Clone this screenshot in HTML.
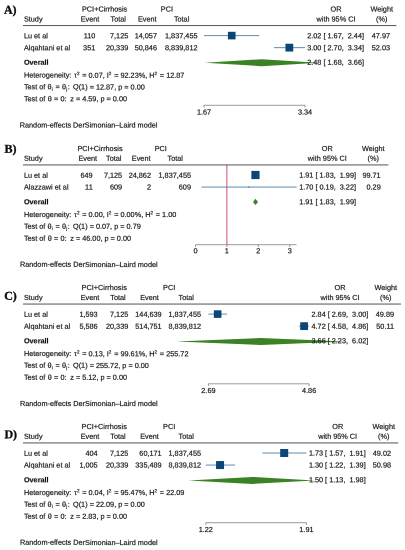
<!DOCTYPE html>
<html><head><meta charset="utf-8"><title>Forest plots</title>
<style>
html,body{margin:0;padding:0;background:#fff}
svg{display:block}
.t{font-family:"Liberation Sans",Arial,Helvetica,sans-serif;font-size:7.3px;fill:#111;stroke:rgba(10,10,10,0.4);stroke-width:0.4px;paint-order:stroke;white-space:pre}
.b{font-weight:bold}
.sup{font-size:4.6px}
.sub{font-size:4.4px}
.lab{font-family:"Liberation Serif","Times New Roman",serif;font-weight:bold;font-size:12px;fill:#0a0a0a;stroke:#0a0a0a;stroke-width:0.3px}
</style></head><body>
<svg width="405" height="550" viewBox="0 0 405 550">
<rect width="405" height="550" fill="#fff"/>
<g>
<path d="M204.00 105.30H305.00" fill="none" stroke="#666" stroke-width="0.65"/>
<line x1="204.00" y1="105.30" x2="204.00" y2="107.60" stroke="#666" stroke-width="0.65"/>
<text x="204.00" y="114.50" transform="rotate(0.03 204.00 114.50)" text-anchor="middle" class="t">1.67</text>
<line x1="305.00" y1="105.30" x2="305.00" y2="107.60" stroke="#666" stroke-width="0.65"/>
<text x="305.00" y="114.50" transform="rotate(0.03 305.00 114.50)" text-anchor="middle" class="t">3.34</text>
<polygon points="204.87,62.70 261.62,59.20 318.33,62.70 261.62,66.20" fill="#3a8224"/>
<line x1="204.00" y1="35.60" x2="259.25" y2="35.60" stroke="#4b80a8" stroke-width="0.9"/>
<rect x="227.93" y="31.80" width="7.6" height="7.6" fill="#0d4577"/>
<line x1="274.00" y1="47.65" x2="305.00" y2="47.65" stroke="#4b80a8" stroke-width="0.9"/>
<rect x="285.46" y="43.75" width="7.8" height="7.8" fill="#0d4577"/>
<text x="3.90" y="13.80" transform="rotate(0.03 3.90 13.80)" text-anchor="start" class="lab">A)</text>
<text x="104.60" y="11.60" transform="rotate(0.03 104.60 11.60)" text-anchor="middle" class="t">PCI+Cirrhosis</text>
<text x="166.90" y="11.60" transform="rotate(0.03 166.90 11.60)" text-anchor="middle" class="t">PCI</text>
<text x="336.00" y="11.60" transform="rotate(0.03 336.00 11.60)" text-anchor="middle" class="t">OR</text>
<text x="381.70" y="11.60" transform="rotate(0.03 381.70 11.60)" text-anchor="middle" class="t">Weight</text>
<text x="23.90" y="21.40" transform="rotate(0.03 23.90 21.40)" text-anchor="start" class="t">Study</text>
<text x="90.00" y="21.40" transform="rotate(0.03 90.00 21.40)" text-anchor="middle" class="t">Event</text>
<text x="118.30" y="21.40" transform="rotate(0.03 118.30 21.40)" text-anchor="middle" class="t">Total</text>
<text x="147.30" y="21.40" transform="rotate(0.03 147.30 21.40)" text-anchor="middle" class="t">Event</text>
<text x="181.60" y="21.40" transform="rotate(0.03 181.60 21.40)" text-anchor="middle" class="t">Total</text>
<text x="336.00" y="21.40" transform="rotate(0.03 336.00 21.40)" text-anchor="middle" class="t">with 95% CI</text>
<text x="381.70" y="21.40" transform="rotate(0.03 381.70 21.40)" text-anchor="middle" class="t">(%)</text>
<line x1="23.00" y1="25.55" x2="396.40" y2="25.55" stroke="#4a4a4a" stroke-width="0.95"/>
<text x="23.90" y="38.25" transform="rotate(0.03 23.90 38.25)" text-anchor="start" class="t">Lu et al</text>
<text x="95.30" y="38.25" transform="rotate(0.03 95.30 38.25)" text-anchor="end" class="t">110</text>
<text x="128.30" y="38.25" transform="rotate(0.03 128.30 38.25)" text-anchor="end" class="t">7,125</text>
<text x="157.00" y="38.25" transform="rotate(0.03 157.00 38.25)" text-anchor="end" class="t">14,057</text>
<text x="197.50" y="38.25" transform="rotate(0.03 197.50 38.25)" text-anchor="end" class="t">1,837,455</text>
<text x="364.00" y="38.25" transform="rotate(0.03 364.00 38.25)" text-anchor="end" class="t">2.02 [ 1.67,  2.44]</text>
<text x="390.00" y="38.25" transform="rotate(0.03 390.00 38.25)" text-anchor="end" class="t">47.97</text>
<text x="23.90" y="50.20" transform="rotate(0.03 23.90 50.20)" text-anchor="start" class="t">Alqahtani et al</text>
<text x="95.30" y="50.20" transform="rotate(0.03 95.30 50.20)" text-anchor="end" class="t">351</text>
<text x="128.30" y="50.20" transform="rotate(0.03 128.30 50.20)" text-anchor="end" class="t">20,339</text>
<text x="157.00" y="50.20" transform="rotate(0.03 157.00 50.20)" text-anchor="end" class="t">50,846</text>
<text x="197.50" y="50.20" transform="rotate(0.03 197.50 50.20)" text-anchor="end" class="t">8,839,812</text>
<text x="364.00" y="50.20" transform="rotate(0.03 364.00 50.20)" text-anchor="end" class="t">3.00 [ 2.70,  3.34]</text>
<text x="390.00" y="50.20" transform="rotate(0.03 390.00 50.20)" text-anchor="end" class="t">52.03</text>
<text x="23.90" y="64.80" transform="rotate(0.03 23.90 64.80)" text-anchor="start" class="t b">Overall</text>
<text x="364.00" y="64.80" transform="rotate(0.03 364.00 64.80)" text-anchor="end" class="t">2.48 [ 1.68,  3.66]</text>
<text x="23.90" y="77.60" transform="rotate(0.03 23.90 77.60)" text-anchor="start" class="t">Heterogeneity: <tspan dx="0.60">τ</tspan><tspan class="sup" dy="-2.70">2</tspan><tspan dy="2.70" dx="0.75"> = 0.07, I</tspan><tspan class="sup" dy="-2.70">2</tspan><tspan dy="2.70" dx="0.75"> = 92.23%, H</tspan><tspan class="sup" dy="-2.70">2</tspan><tspan dy="2.70" dx="0.75"> = 12.87</tspan></text>
<text x="23.90" y="89.35" transform="rotate(0.03 23.90 89.35)" text-anchor="start" class="t">Test of θ<tspan class="sub" dy="1.30" dx="0.30">i</tspan><tspan dy="-1.30" dx="0.70"> = </tspan><tspan dx="0.30">θ</tspan><tspan class="sub" dy="1.30" dx="0.20">j</tspan><tspan dy="-1.30" dx="0.40">:</tspan><tspan dx="1.20"> Q(1) = 12.87, p = 0.00</tspan></text>
<text x="23.90" y="101.30" transform="rotate(0.03 23.90 101.30)" text-anchor="start" class="t">Test of <tspan dx="0.20">θ</tspan><tspan dx="0.40"> = 0:</tspan><tspan dx="1.70"> z = 4.59, p = 0.00</tspan></text>
<text x="19.70" y="127.45" transform="rotate(0.03 19.70 127.45)" text-anchor="start" class="t">Random-effects DerSimonian–Laird model</text>
<path d="M195.50 244.70H296.61" fill="none" stroke="#666" stroke-width="0.65"/>
<line x1="195.50" y1="244.70" x2="195.50" y2="247.00" stroke="#666" stroke-width="0.65"/>
<text x="195.50" y="253.30" transform="rotate(0.03 195.50 253.30)" text-anchor="middle" class="t">0</text>
<line x1="226.90" y1="244.70" x2="226.90" y2="247.00" stroke="#666" stroke-width="0.65"/>
<text x="226.90" y="253.30" transform="rotate(0.03 226.90 253.30)" text-anchor="middle" class="t">1</text>
<line x1="258.30" y1="244.70" x2="258.30" y2="247.00" stroke="#666" stroke-width="0.65"/>
<text x="258.30" y="253.30" transform="rotate(0.03 258.30 253.30)" text-anchor="middle" class="t">2</text>
<line x1="289.70" y1="244.70" x2="289.70" y2="247.00" stroke="#666" stroke-width="0.65"/>
<text x="289.70" y="253.30" transform="rotate(0.03 289.70 253.30)" text-anchor="middle" class="t">3</text>
<line x1="226.90" y1="164.95" x2="226.90" y2="244.70" stroke="#cc3a5e" stroke-width="0.9"/>
<polygon points="252.96,201.90 255.47,198.70 257.99,201.90 255.47,205.10" fill="#3a8224"/>
<line x1="252.96" y1="175.00" x2="257.99" y2="175.00" stroke="#4b80a8" stroke-width="0.9"/>
<rect x="251.37" y="170.90" width="8.2" height="8.2" fill="#0d4577"/>
<line x1="201.47" y1="187.05" x2="296.61" y2="187.05" stroke="#4b80a8" stroke-width="0.9"/>
<rect x="248.38" y="186.55" width="1.0" height="1.0" fill="#0d4577"/>
<text x="4.40" y="152.70" transform="rotate(0.03 4.40 152.70)" text-anchor="start" class="lab">B)</text>
<text x="100.00" y="151.00" transform="rotate(0.03 100.00 151.00)" text-anchor="middle" class="t">PCI+Cirrhosis</text>
<text x="160.80" y="151.00" transform="rotate(0.03 160.80 151.00)" text-anchor="middle" class="t">PCI</text>
<text x="327.30" y="151.00" transform="rotate(0.03 327.30 151.00)" text-anchor="middle" class="t">OR</text>
<text x="373.30" y="151.00" transform="rotate(0.03 373.30 151.00)" text-anchor="middle" class="t">Weight</text>
<text x="23.90" y="160.80" transform="rotate(0.03 23.90 160.80)" text-anchor="start" class="t">Study</text>
<text x="87.80" y="160.80" transform="rotate(0.03 87.80 160.80)" text-anchor="middle" class="t">Event</text>
<text x="113.80" y="160.80" transform="rotate(0.03 113.80 160.80)" text-anchor="middle" class="t">Total</text>
<text x="141.20" y="160.80" transform="rotate(0.03 141.20 160.80)" text-anchor="middle" class="t">Event</text>
<text x="175.30" y="160.80" transform="rotate(0.03 175.30 160.80)" text-anchor="middle" class="t">Total</text>
<text x="327.30" y="160.80" transform="rotate(0.03 327.30 160.80)" text-anchor="middle" class="t">with 95% CI</text>
<text x="373.30" y="160.80" transform="rotate(0.03 373.30 160.80)" text-anchor="middle" class="t">(%)</text>
<line x1="23.00" y1="164.95" x2="388.30" y2="164.95" stroke="#4a4a4a" stroke-width="0.95"/>
<text x="23.90" y="177.65" transform="rotate(0.03 23.90 177.65)" text-anchor="start" class="t">Lu et al</text>
<text x="92.70" y="177.65" transform="rotate(0.03 92.70 177.65)" text-anchor="end" class="t">649</text>
<text x="122.20" y="177.65" transform="rotate(0.03 122.20 177.65)" text-anchor="end" class="t">7,125</text>
<text x="151.00" y="177.65" transform="rotate(0.03 151.00 177.65)" text-anchor="end" class="t">24,862</text>
<text x="191.00" y="177.65" transform="rotate(0.03 191.00 177.65)" text-anchor="end" class="t">1,837,455</text>
<text x="356.00" y="177.65" transform="rotate(0.03 356.00 177.65)" text-anchor="end" class="t">1.91 [ 1.83,  1.99]</text>
<text x="380.70" y="177.65" transform="rotate(0.03 380.70 177.65)" text-anchor="end" class="t">99.71</text>
<text x="23.90" y="189.60" transform="rotate(0.03 23.90 189.60)" text-anchor="start" class="t">Alazzawi et al</text>
<text x="92.70" y="189.60" transform="rotate(0.03 92.70 189.60)" text-anchor="end" class="t">11</text>
<text x="122.20" y="189.60" transform="rotate(0.03 122.20 189.60)" text-anchor="end" class="t">609</text>
<text x="151.00" y="189.60" transform="rotate(0.03 151.00 189.60)" text-anchor="end" class="t">2</text>
<text x="191.00" y="189.60" transform="rotate(0.03 191.00 189.60)" text-anchor="end" class="t">609</text>
<text x="356.00" y="189.60" transform="rotate(0.03 356.00 189.60)" text-anchor="end" class="t">1.70 [ 0.19,  3.22]</text>
<text x="380.70" y="189.60" transform="rotate(0.03 380.70 189.60)" text-anchor="end" class="t">0.29</text>
<text x="23.90" y="204.20" transform="rotate(0.03 23.90 204.20)" text-anchor="start" class="t b">Overall</text>
<text x="356.00" y="204.20" transform="rotate(0.03 356.00 204.20)" text-anchor="end" class="t">1.91 [ 1.83,  1.99]</text>
<text x="23.90" y="217.00" transform="rotate(0.03 23.90 217.00)" text-anchor="start" class="t">Heterogeneity: <tspan dx="0.60">τ</tspan><tspan class="sup" dy="-2.70">2</tspan><tspan dy="2.70" dx="0.75"> = 0.00, I</tspan><tspan class="sup" dy="-2.70">2</tspan><tspan dy="2.70" dx="0.75"> = 0.00%, H</tspan><tspan class="sup" dy="-2.70">2</tspan><tspan dy="2.70" dx="0.75"> = 1.00</tspan></text>
<text x="23.90" y="228.75" transform="rotate(0.03 23.90 228.75)" text-anchor="start" class="t">Test of θ<tspan class="sub" dy="1.30" dx="0.30">i</tspan><tspan dy="-1.30" dx="0.70"> = </tspan><tspan dx="0.30">θ</tspan><tspan class="sub" dy="1.30" dx="0.20">j</tspan><tspan dy="-1.30" dx="0.40">:</tspan><tspan dx="1.20"> Q(1) = 0.07, p = 0.79</tspan></text>
<text x="23.90" y="240.70" transform="rotate(0.03 23.90 240.70)" text-anchor="start" class="t">Test of <tspan dx="0.20">θ</tspan><tspan dx="0.40"> = 0:</tspan><tspan dx="1.70"> z = 46.00, p = 0.00</tspan></text>
<text x="19.90" y="266.85" transform="rotate(0.03 19.90 266.85)" text-anchor="start" class="t">Random-effects DerSimonian–Laird model</text>
<path d="M208.40 383.80H309.10" fill="none" stroke="#666" stroke-width="0.65"/>
<line x1="208.40" y1="383.80" x2="208.40" y2="386.10" stroke="#666" stroke-width="0.65"/>
<text x="208.40" y="393.00" transform="rotate(0.03 208.40 393.00)" text-anchor="middle" class="t">2.69</text>
<line x1="309.10" y1="383.80" x2="309.10" y2="386.10" stroke="#666" stroke-width="0.65"/>
<text x="309.10" y="393.00" transform="rotate(0.03 309.10 393.00)" text-anchor="middle" class="t">4.86</text>
<polygon points="176.47,341.50 260.82,338.00 345.54,341.50 260.82,345.00" fill="#3a8224"/>
<line x1="208.40" y1="314.10" x2="226.97" y2="314.10" stroke="#4b80a8" stroke-width="0.9"/>
<rect x="213.84" y="310.30" width="7.6" height="7.6" fill="#0d4577"/>
<line x1="299.00" y1="326.15" x2="309.10" y2="326.15" stroke="#4b80a8" stroke-width="0.9"/>
<rect x="300.22" y="322.25" width="7.8" height="7.8" fill="#0d4577"/>
<text x="4.20" y="299.80" transform="rotate(0.03 4.20 299.80)" text-anchor="start" class="lab">C)</text>
<text x="104.20" y="290.10" transform="rotate(0.03 104.20 290.10)" text-anchor="middle" class="t">PCI+Cirrhosis</text>
<text x="169.20" y="290.10" transform="rotate(0.03 169.20 290.10)" text-anchor="middle" class="t">PCI</text>
<text x="340.00" y="290.10" transform="rotate(0.03 340.00 290.10)" text-anchor="middle" class="t">OR</text>
<text x="385.80" y="290.10" transform="rotate(0.03 385.80 290.10)" text-anchor="middle" class="t">Weight</text>
<text x="23.90" y="299.90" transform="rotate(0.03 23.90 299.90)" text-anchor="start" class="t">Study</text>
<text x="90.00" y="299.90" transform="rotate(0.03 90.00 299.90)" text-anchor="middle" class="t">Event</text>
<text x="118.00" y="299.90" transform="rotate(0.03 118.00 299.90)" text-anchor="middle" class="t">Total</text>
<text x="149.50" y="299.90" transform="rotate(0.03 149.50 299.90)" text-anchor="middle" class="t">Event</text>
<text x="186.20" y="299.90" transform="rotate(0.03 186.20 299.90)" text-anchor="middle" class="t">Total</text>
<text x="340.00" y="299.90" transform="rotate(0.03 340.00 299.90)" text-anchor="middle" class="t">with 95% CI</text>
<text x="385.80" y="299.90" transform="rotate(0.03 385.80 299.90)" text-anchor="middle" class="t">(%)</text>
<line x1="23.00" y1="304.05" x2="401.00" y2="304.05" stroke="#4a4a4a" stroke-width="0.95"/>
<text x="23.90" y="316.75" transform="rotate(0.03 23.90 316.75)" text-anchor="start" class="t">Lu et al</text>
<text x="97.70" y="316.75" transform="rotate(0.03 97.70 316.75)" text-anchor="end" class="t">1,593</text>
<text x="128.30" y="316.75" transform="rotate(0.03 128.30 316.75)" text-anchor="end" class="t">7,125</text>
<text x="161.70" y="316.75" transform="rotate(0.03 161.70 316.75)" text-anchor="end" class="t">144,639</text>
<text x="201.00" y="316.75" transform="rotate(0.03 201.00 316.75)" text-anchor="end" class="t">1,837,455</text>
<text x="368.30" y="316.75" transform="rotate(0.03 368.30 316.75)" text-anchor="end" class="t">2.84 [ 2.69,  3.00]</text>
<text x="394.00" y="316.75" transform="rotate(0.03 394.00 316.75)" text-anchor="end" class="t">49.89</text>
<text x="23.90" y="328.70" transform="rotate(0.03 23.90 328.70)" text-anchor="start" class="t">Alqahtani et al</text>
<text x="97.70" y="328.70" transform="rotate(0.03 97.70 328.70)" text-anchor="end" class="t">5,586</text>
<text x="128.30" y="328.70" transform="rotate(0.03 128.30 328.70)" text-anchor="end" class="t">20,339</text>
<text x="161.70" y="328.70" transform="rotate(0.03 161.70 328.70)" text-anchor="end" class="t">514,751</text>
<text x="201.00" y="328.70" transform="rotate(0.03 201.00 328.70)" text-anchor="end" class="t">8,839,812</text>
<text x="368.30" y="328.70" transform="rotate(0.03 368.30 328.70)" text-anchor="end" class="t">4.72 [ 4.58,  4.86]</text>
<text x="394.00" y="328.70" transform="rotate(0.03 394.00 328.70)" text-anchor="end" class="t">50.11</text>
<text x="23.90" y="343.30" transform="rotate(0.03 23.90 343.30)" text-anchor="start" class="t b">Overall</text>
<text x="368.30" y="343.30" transform="rotate(0.03 368.30 343.30)" text-anchor="end" class="t">3.66 [ 2.23,  6.02]</text>
<text x="23.90" y="356.10" transform="rotate(0.03 23.90 356.10)" text-anchor="start" class="t">Heterogeneity: <tspan dx="0.60">τ</tspan><tspan class="sup" dy="-2.70">2</tspan><tspan dy="2.70" dx="0.75"> = 0.13, I</tspan><tspan class="sup" dy="-2.70">2</tspan><tspan dy="2.70" dx="0.75"> = 99.61%, H</tspan><tspan class="sup" dy="-2.70">2</tspan><tspan dy="2.70" dx="0.75"> = 255.72</tspan></text>
<text x="23.90" y="367.85" transform="rotate(0.03 23.90 367.85)" text-anchor="start" class="t">Test of θ<tspan class="sub" dy="1.30" dx="0.30">i</tspan><tspan dy="-1.30" dx="0.70"> = </tspan><tspan dx="0.30">θ</tspan><tspan class="sub" dy="1.30" dx="0.20">j</tspan><tspan dy="-1.30" dx="0.40">:</tspan><tspan dx="1.20"> Q(1) = 255.72, p = 0.00</tspan></text>
<text x="23.90" y="379.80" transform="rotate(0.03 23.90 379.80)" text-anchor="start" class="t">Test of <tspan dx="0.20">θ</tspan><tspan dx="0.40"> = 0:</tspan><tspan dx="1.70"> z = 5.12, p = 0.00</tspan></text>
<text x="19.90" y="405.95" transform="rotate(0.03 19.90 405.95)" text-anchor="start" class="t">Random-effects DerSimonian–Laird model</text>
<path d="M205.80 522.70H306.40" fill="none" stroke="#666" stroke-width="0.65"/>
<line x1="205.80" y1="522.70" x2="205.80" y2="525.00" stroke="#666" stroke-width="0.65"/>
<text x="205.80" y="531.90" transform="rotate(0.03 205.80 531.90)" text-anchor="middle" class="t">1.22</text>
<line x1="306.40" y1="522.70" x2="306.40" y2="525.00" stroke="#666" stroke-width="0.65"/>
<text x="306.40" y="531.90" transform="rotate(0.03 306.40 531.90)" text-anchor="middle" class="t">1.91</text>
<polygon points="188.60,480.40 252.17,476.90 314.48,480.40 252.17,483.90" fill="#3a8224"/>
<line x1="262.41" y1="453.00" x2="306.40" y2="453.00" stroke="#4b80a8" stroke-width="0.9"/>
<rect x="280.19" y="449.00" width="8.0" height="8.0" fill="#0d4577"/>
<line x1="205.80" y1="465.05" x2="235.08" y2="465.05" stroke="#4b80a8" stroke-width="0.9"/>
<rect x="216.05" y="461.05" width="8.0" height="8.0" fill="#0d4577"/>
<text x="4.40" y="438.20" transform="rotate(0.03 4.40 438.20)" text-anchor="start" class="lab">D)</text>
<text x="104.20" y="429.00" transform="rotate(0.03 104.20 429.00)" text-anchor="middle" class="t">PCI+Cirrhosis</text>
<text x="169.20" y="429.00" transform="rotate(0.03 169.20 429.00)" text-anchor="middle" class="t">PCI</text>
<text x="337.70" y="429.00" transform="rotate(0.03 337.70 429.00)" text-anchor="middle" class="t">OR</text>
<text x="383.70" y="429.00" transform="rotate(0.03 383.70 429.00)" text-anchor="middle" class="t">Weight</text>
<text x="23.90" y="438.80" transform="rotate(0.03 23.90 438.80)" text-anchor="start" class="t">Study</text>
<text x="90.00" y="438.80" transform="rotate(0.03 90.00 438.80)" text-anchor="middle" class="t">Event</text>
<text x="118.00" y="438.80" transform="rotate(0.03 118.00 438.80)" text-anchor="middle" class="t">Total</text>
<text x="149.50" y="438.80" transform="rotate(0.03 149.50 438.80)" text-anchor="middle" class="t">Event</text>
<text x="186.20" y="438.80" transform="rotate(0.03 186.20 438.80)" text-anchor="middle" class="t">Total</text>
<text x="337.70" y="438.80" transform="rotate(0.03 337.70 438.80)" text-anchor="middle" class="t">with 95% CI</text>
<text x="383.70" y="438.80" transform="rotate(0.03 383.70 438.80)" text-anchor="middle" class="t">(%)</text>
<line x1="23.00" y1="442.95" x2="398.30" y2="442.95" stroke="#4a4a4a" stroke-width="0.95"/>
<text x="23.90" y="455.65" transform="rotate(0.03 23.90 455.65)" text-anchor="start" class="t">Lu et al</text>
<text x="97.70" y="455.65" transform="rotate(0.03 97.70 455.65)" text-anchor="end" class="t">404</text>
<text x="128.30" y="455.65" transform="rotate(0.03 128.30 455.65)" text-anchor="end" class="t">7,125</text>
<text x="161.70" y="455.65" transform="rotate(0.03 161.70 455.65)" text-anchor="end" class="t">60,171</text>
<text x="201.00" y="455.65" transform="rotate(0.03 201.00 455.65)" text-anchor="end" class="t">1,837,455</text>
<text x="365.70" y="455.65" transform="rotate(0.03 365.70 455.65)" text-anchor="end" class="t">1.73 [ 1.57,  1.91]</text>
<text x="391.00" y="455.65" transform="rotate(0.03 391.00 455.65)" text-anchor="end" class="t">49.02</text>
<text x="23.90" y="467.60" transform="rotate(0.03 23.90 467.60)" text-anchor="start" class="t">Alqahtani et al</text>
<text x="97.70" y="467.60" transform="rotate(0.03 97.70 467.60)" text-anchor="end" class="t">1,005</text>
<text x="128.30" y="467.60" transform="rotate(0.03 128.30 467.60)" text-anchor="end" class="t">20,339</text>
<text x="161.70" y="467.60" transform="rotate(0.03 161.70 467.60)" text-anchor="end" class="t">335,489</text>
<text x="201.00" y="467.60" transform="rotate(0.03 201.00 467.60)" text-anchor="end" class="t">8,839,812</text>
<text x="365.70" y="467.60" transform="rotate(0.03 365.70 467.60)" text-anchor="end" class="t">1.30 [ 1.22,  1.39]</text>
<text x="391.00" y="467.60" transform="rotate(0.03 391.00 467.60)" text-anchor="end" class="t">50.98</text>
<text x="23.90" y="482.20" transform="rotate(0.03 23.90 482.20)" text-anchor="start" class="t b">Overall</text>
<text x="365.70" y="482.20" transform="rotate(0.03 365.70 482.20)" text-anchor="end" class="t">1.50 [ 1.13,  1.98]</text>
<text x="23.90" y="495.00" transform="rotate(0.03 23.90 495.00)" text-anchor="start" class="t">Heterogeneity: <tspan dx="0.60">τ</tspan><tspan class="sup" dy="-2.70">2</tspan><tspan dy="2.70" dx="0.75"> = 0.04, I</tspan><tspan class="sup" dy="-2.70">2</tspan><tspan dy="2.70" dx="0.75"> = 95.47%, H</tspan><tspan class="sup" dy="-2.70">2</tspan><tspan dy="2.70" dx="0.75"> = 22.09</tspan></text>
<text x="23.90" y="506.75" transform="rotate(0.03 23.90 506.75)" text-anchor="start" class="t">Test of θ<tspan class="sub" dy="1.30" dx="0.30">i</tspan><tspan dy="-1.30" dx="0.70"> = </tspan><tspan dx="0.30">θ</tspan><tspan class="sub" dy="1.30" dx="0.20">j</tspan><tspan dy="-1.30" dx="0.40">:</tspan><tspan dx="1.20"> Q(1) = 22.09, p = 0.00</tspan></text>
<text x="23.90" y="518.70" transform="rotate(0.03 23.90 518.70)" text-anchor="start" class="t">Test of <tspan dx="0.20">θ</tspan><tspan dx="0.40"> = 0:</tspan><tspan dx="1.70"> z = 2.83, p = 0.00</tspan></text>
<text x="19.90" y="544.85" transform="rotate(0.03 19.90 544.85)" text-anchor="start" class="t">Random-effects DerSimonian–Laird model</text>
</g>
</svg>
</body></html>
